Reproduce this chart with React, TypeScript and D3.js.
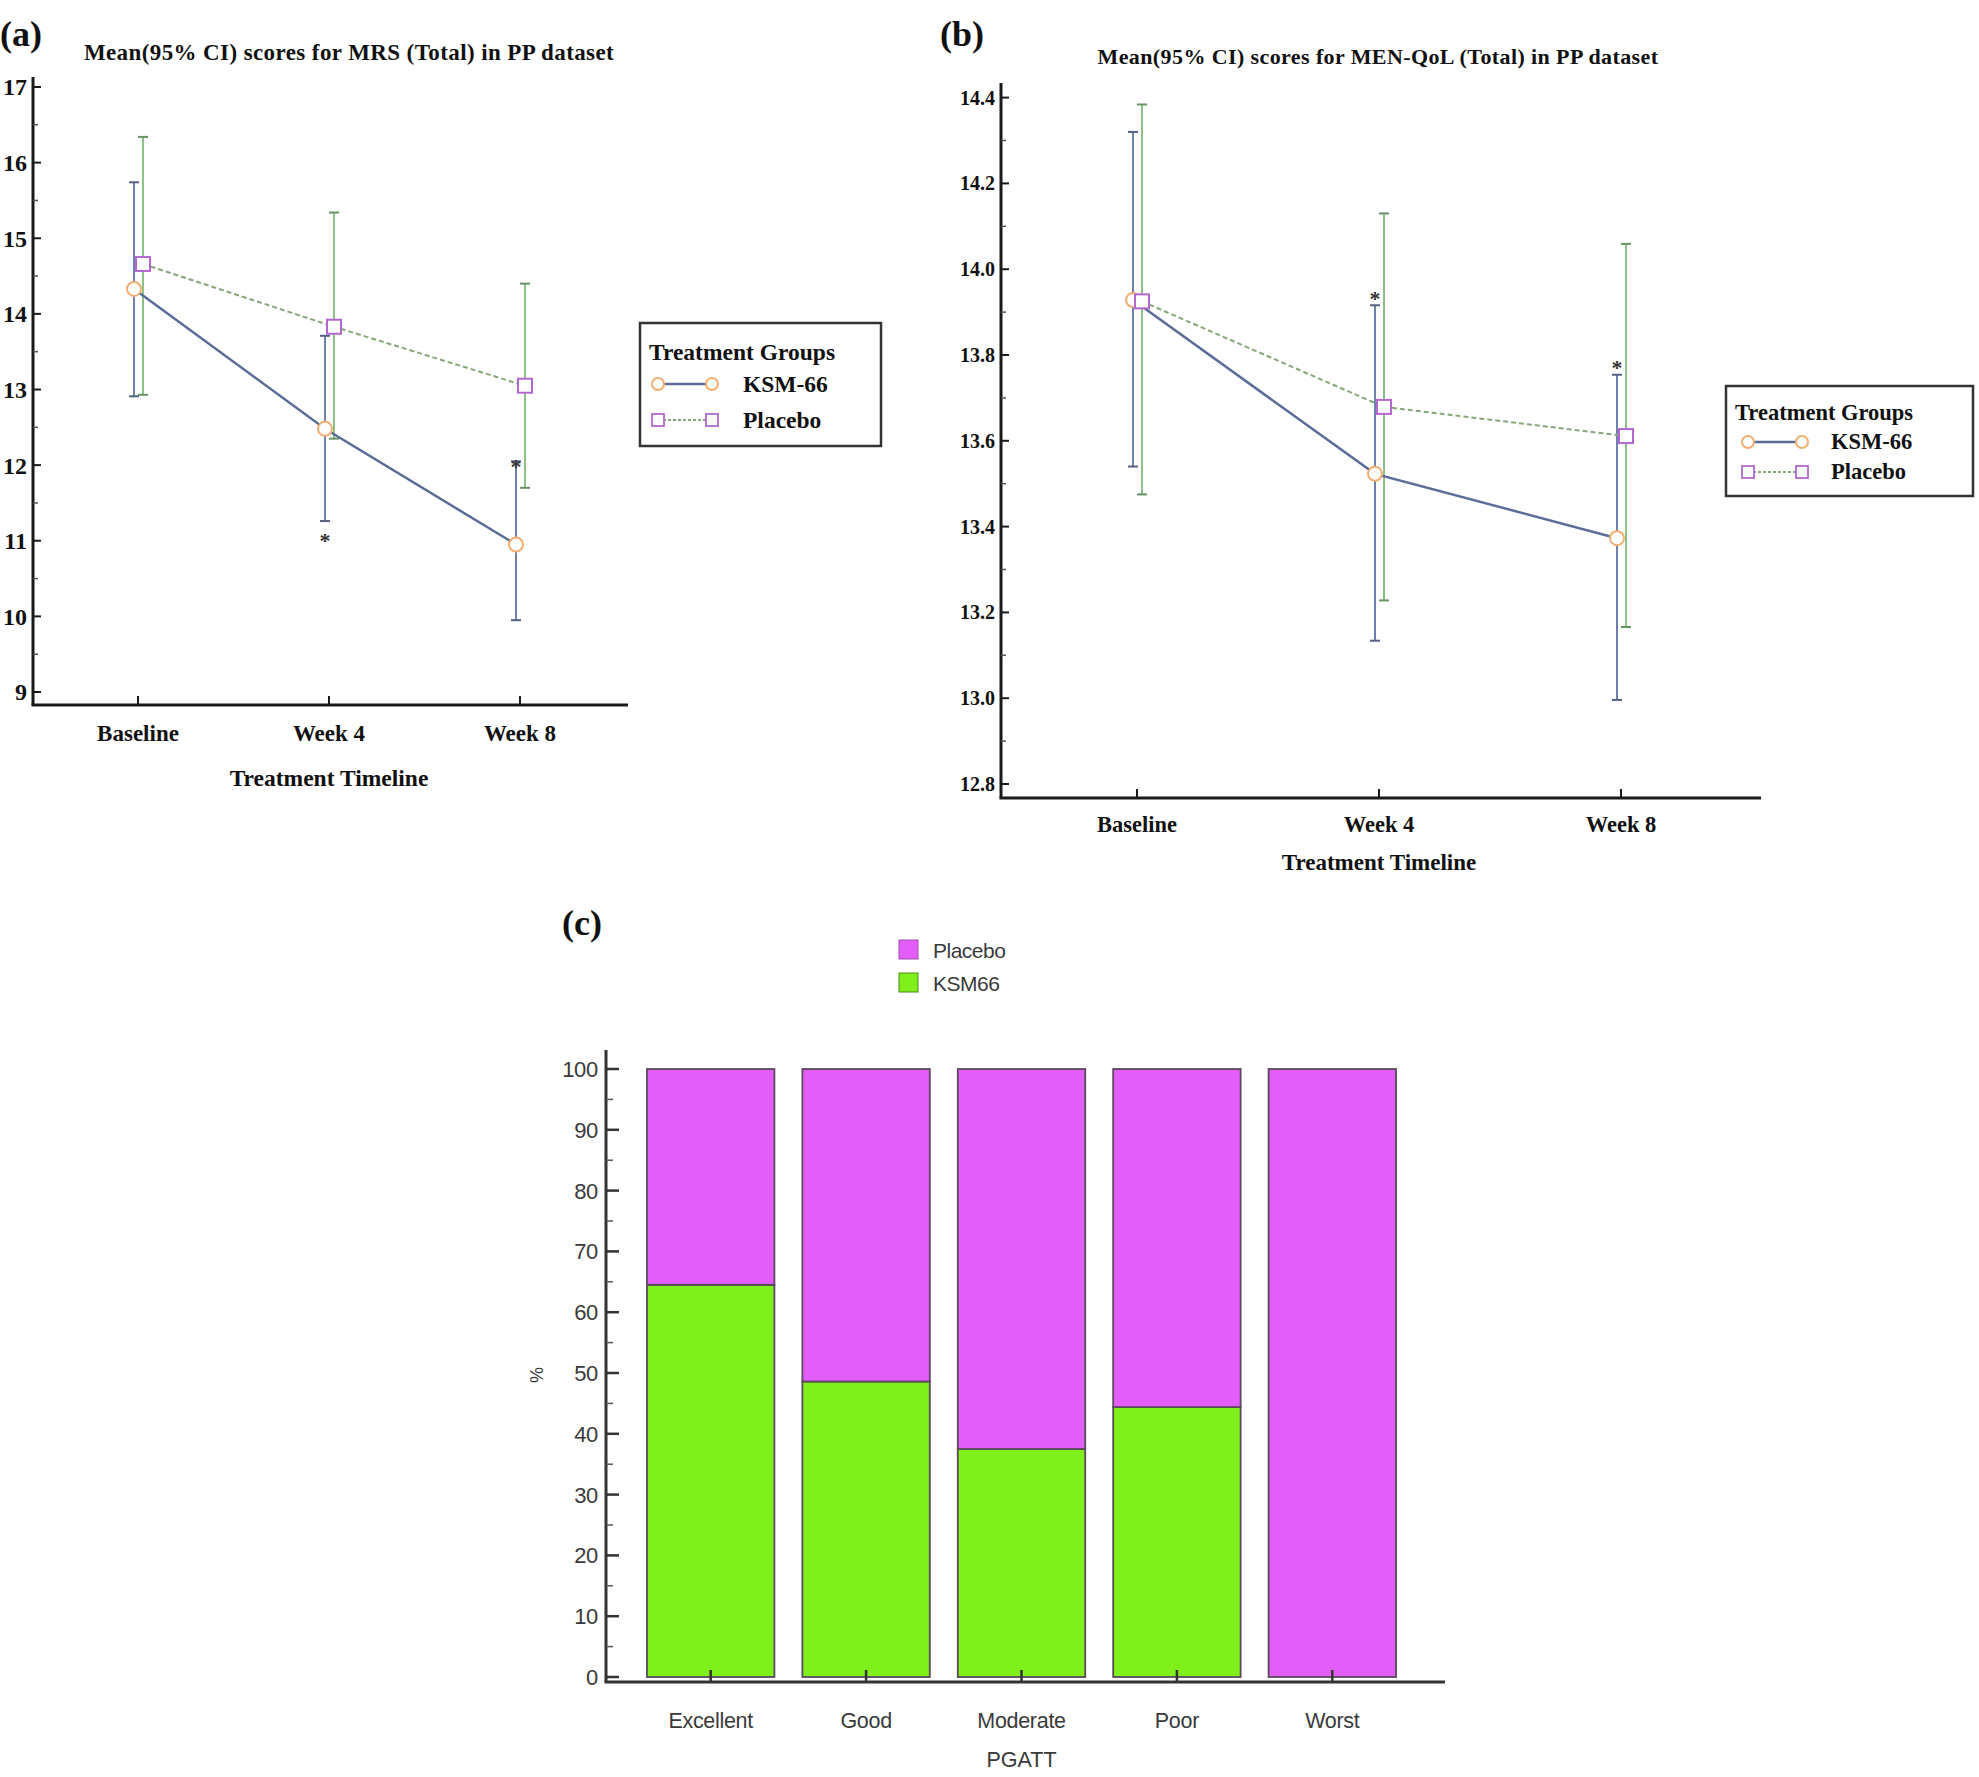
import React from 'react';
import * as d3 from 'd3';

// ─── Data ───────────────────────────────────────────────────

const timeline = ['Baseline', 'Week 4', 'Week 8'];

// (a) MRS total, mean and 95% CI
const mrsKsmMean = [14.33, 12.48, 10.95];
const mrsKsmLow = [12.91, 11.26, 9.95];
const mrsKsmHigh = [15.74, 13.71, 12.05];
const mrsPlaMean = [14.66, 13.83, 13.05];
const mrsPlaLow = [12.93, 12.35, 11.7];
const mrsPlaHigh = [16.34, 15.34, 14.4];
const mrsSig = [null, 11.05, 12.03];

// (b) MEN-QoL total, mean and 95% CI
const qolKsmMean = [13.928, 13.523, 13.373];
const qolKsmLow = [13.54, 13.134, 12.996];
const qolKsmHigh = [14.32, 13.916, 13.754];
const qolPlaMean = [13.925, 13.679, 13.611];
const qolPlaLow = [13.475, 13.228, 13.166];
const qolPlaHigh = [14.384, 14.13, 14.059];
const qolSig = [null, 13.94, 13.78];

// (c) PGATT distribution, %
const pgatt = ['Excellent', 'Good', 'Moderate', 'Poor', 'Worst'];
const ksm66Pct = [64.5, 48.6, 37.5, 44.4, 0];
const placeboPct = [35.5, 51.4, 62.5, 55.6, 100];

// ─── Styles ─────────────────────────────────────────────────

const SERIF = '"Liberation Serif", "Times New Roman", serif';
const SANS = '"Liberation Sans", Arial, sans-serif';
const KSM_LINE = '#5a6c98';
const KSM_BAR = '#6f80ad';
const KSM_MARK = '#f0ae72';
const PLA_LINE = '#86a878';
const PLA_BAR = '#8cc287';
const PLA_MARK = '#b468cf';
const AXIS = '#1a1a1a';
const PLACEBO_FILL = '#e35ef8';
const KSM_FILL = '#80f01c';

// ─── Line panel ─────────────────────────────────────────────

interface Series {
  mean: number[];
  low: number[];
  high: number[];
}

interface LinePanelProps {
  tag: string;
  tagX: number;
  title: string;
  titleX: number;
  titleY: number;
  titleSize: number;
  axisX: number;
  axisY: number;
  axisTop: number;
  axisRight: number;
  catRange: [number, number];
  yDomain: [number, number];
  yRange: [number, number];
  major: number;
  minor: number;
  fmt: (v: number) => string;
  tickSize: number;
  labelSize: number;
  xLabelY: number;
  xTitleY: number;
  ksm: Series;
  pla: Series;
  sig: (number | null)[];
  legend: { x: number; y: number; w: number; h: number; size: number; rows: number[]; titleY: number; mx: number; tx: number };
}

function LinePanel(p: LinePanelProps) {
  const x = d3.scalePoint<string>().domain(timeline).range(p.catRange);
  const y = d3.scaleLinear().domain(p.yDomain).range(p.yRange);
  const majors = d3.range(p.yDomain[0], p.yDomain[1] + p.major / 2, p.major);
  const minors = d3.range(p.yDomain[0] + p.minor, p.yDomain[1], p.major).filter((v) => v < p.yDomain[1]);
  const kOff = -4;
  const pOff = 5;

  const line = (off: number) =>
    d3.line<number>()
      .x((_, i) => (x(timeline[i]) as number) + off)
      .y((d) => y(d));

  const errBars = (s: Series, off: number, color: string) =>
    timeline.map((c, i) => {
      const cx = (x(c) as number) + off;
      const cap = d3.color(color)!.darker(0.8).toString();
      return (
        <g key={c} stroke={color} strokeWidth={2}>
          <line x1={cx} x2={cx} y1={y(s.low[i])} y2={y(s.high[i])} />
          <line x1={cx - 5} x2={cx + 5} y1={y(s.low[i])} y2={y(s.low[i])} stroke={cap} />
          <line x1={cx - 5} x2={cx + 5} y1={y(s.high[i])} y2={y(s.high[i])} stroke={cap} />
        </g>
      );
    });

  const lg = p.legend;

  return (
    <g fontFamily={SERIF} fontWeight="bold" fill="#111">
      <text x={p.tagX} y={46} fontSize={36}>{p.tag}</text>
      <text x={p.titleX} y={p.titleY} fontSize={p.titleSize} textAnchor="middle" letterSpacing={0.4}>{p.title}</text>

      {/* axes */}
      <line x1={p.axisX} x2={p.axisX} y1={p.axisTop} y2={p.axisY} stroke={AXIS} strokeWidth={3} />
      <line x1={p.axisX - 1.5} x2={p.axisRight} y1={p.axisY} y2={p.axisY} stroke={AXIS} strokeWidth={3} />
      {majors.map((v) => (
        <g key={'M' + v}>
          <line x1={p.axisX} x2={p.axisX + 8} y1={y(v)} y2={y(v)} stroke={AXIS} strokeWidth={2} />
          <text x={p.axisX - 6} y={y(v)} dy="0.35em" textAnchor="end" fontSize={p.tickSize}>{p.fmt(v)}</text>
        </g>
      ))}
      {minors.map((v) => (
        <line key={'m' + v} x1={p.axisX} x2={p.axisX + 5} y1={y(v)} y2={y(v)} stroke="#555" strokeWidth={1.5} />
      ))}
      {timeline.map((c) => (
        <g key={c}>
          <line x1={x(c)} x2={x(c)} y1={p.axisY} y2={p.axisY - 9} stroke={AXIS} strokeWidth={2} />
          <text x={x(c)} y={p.xLabelY} textAnchor="middle" fontSize={p.labelSize}>{c}</text>
        </g>
      ))}
      <text x={(p.catRange[0] + p.catRange[1]) / 2} y={p.xTitleY} textAnchor="middle" fontSize={p.labelSize + 0.5}>Treatment Timeline</text>

      {/* error bars */}
      {errBars(p.pla, pOff, PLA_BAR)}
      {errBars(p.ksm, kOff, KSM_BAR)}

      {/* lines */}
      <path d={line(pOff)(p.pla.mean) ?? ''} fill="none" stroke={PLA_LINE} strokeWidth={2} strokeDasharray="5 3" />
      <path d={line(kOff)(p.ksm.mean) ?? ''} fill="none" stroke={KSM_LINE} strokeWidth={2.5} />

      {/* markers */}
      {p.ksm.mean.map((v, i) => (
        <circle key={'k' + i} cx={(x(timeline[i]) as number) + kOff} cy={y(v)} r={7} fill="#fff" stroke={KSM_MARK} strokeWidth={2} />
      ))}
      {p.pla.mean.map((v, i) => (
        <rect key={'p' + i} x={(x(timeline[i]) as number) + pOff - 7} y={y(v) - 7} width={14} height={14} fill="#fff" stroke={PLA_MARK} strokeWidth={2} />
      ))}

      {/* significance */}
      {p.sig.map((v, i) =>
        v == null ? null : (
          <text key={'s' + i} x={(x(timeline[i]) as number) + kOff} y={y(v) + 11} textAnchor="middle" fontSize={22} fill="#333">*</text>
        ),
      )}

      {/* legend */}
      <rect x={lg.x} y={lg.y} width={lg.w} height={lg.h} fill="#fff" stroke="#333" strokeWidth={2.5} />
      <text x={lg.x + 9} y={lg.titleY} fontSize={lg.size}>Treatment Groups</text>
      <line x1={lg.mx} x2={lg.mx + 54} y1={lg.rows[0]} y2={lg.rows[0]} stroke={KSM_LINE} strokeWidth={2.5} />
      <circle cx={lg.mx} cy={lg.rows[0]} r={6} fill="#fff" stroke={KSM_MARK} strokeWidth={2} />
      <circle cx={lg.mx + 54} cy={lg.rows[0]} r={6} fill="#fff" stroke={KSM_MARK} strokeWidth={2} />
      <text x={lg.tx} y={lg.rows[0]} dy="0.33em" fontSize={lg.size}>KSM-66</text>
      <line x1={lg.mx} x2={lg.mx + 54} y1={lg.rows[1]} y2={lg.rows[1]} stroke={PLA_LINE} strokeWidth={2} strokeDasharray="3 2" />
      <rect x={lg.mx - 6} y={lg.rows[1] - 6} width={12} height={12} fill="#fff" stroke={PLA_MARK} strokeWidth={1.8} />
      <rect x={lg.mx + 48} y={lg.rows[1] - 6} width={12} height={12} fill="#fff" stroke={PLA_MARK} strokeWidth={1.8} />
      <text x={lg.tx} y={lg.rows[1]} dy="0.33em" fontSize={lg.size}>Placebo</text>
    </g>
  );
}

// ─── Stacked bar panel ──────────────────────────────────────

function BarPanel() {
  const axisX = 606;
  const axisY = 1682;
  const x = d3.scaleBand<string>().domain(pgatt).range([619, 1424]).padding(0.18);
  const y = d3.scaleLinear().domain([0, 100]).range([1677, 1069]);
  const stacked = pgatt.map((c, i) => ({ c, k: ksm66Pct[i], p: placeboPct[i] }));
  const txt = '#3a3a3a';
  const mid = (x(pgatt[2]) as number) + x.bandwidth() / 2;

  return (
    <g>
      <text x={562} y={935} fontFamily={SERIF} fontWeight="bold" fontSize={36} fill="#111">(c)</text>

      {/* legend */}
      <rect x={899} y={940} width={19} height={19} fill={PLACEBO_FILL} stroke="#a04ab0" strokeWidth={1} />
      <text x={933} y={950} dy="0.36em" fontFamily={SANS} fontSize={21} fill={txt} letterSpacing={-0.5}>Placebo</text>
      <rect x={899} y={973} width={19} height={19} fill={KSM_FILL} stroke="#4c8a18" strokeWidth={1} />
      <text x={933} y={983} dy="0.36em" fontFamily={SANS} fontSize={21} fill={txt} letterSpacing={-0.5}>KSM66</text>

      {/* bars */}
      {stacked.map((d) => (
        <g key={d.c} stroke="#5a4a5a" strokeWidth={1.8}>
          {d.k > 0 && (
            <rect x={x(d.c)} y={y(d.k)} width={x.bandwidth()} height={y(0) - y(d.k)} fill={KSM_FILL} />
          )}
          <rect x={x(d.c)} y={y(d.k + d.p)} width={x.bandwidth()} height={y(d.k) - y(d.k + d.p)} fill={PLACEBO_FILL} />
        </g>
      ))}

      {/* axes */}
      <line x1={axisX} x2={axisX} y1={1050} y2={axisY} stroke="#333" strokeWidth={3} />
      <line x1={axisX - 1.5} x2={1445} y1={axisY} y2={axisY} stroke="#333" strokeWidth={3} />
      {y.ticks(10).map((v) => (
        <g key={v}>
          <line x1={axisX} x2={axisX + 13} y1={y(v)} y2={y(v)} stroke="#333" strokeWidth={2.5} />
          <text x={axisX - 8} y={y(v)} dy="0.36em" textAnchor="end" fontFamily={SANS} fontSize={22} fill={txt} letterSpacing={-0.3}>{v}</text>
        </g>
      ))}
      {d3.range(5, 100, 10).map((v) => (
        <line key={'m' + v} x1={axisX} x2={axisX + 7} y1={y(v)} y2={y(v)} stroke="#555" strokeWidth={1.5} />
      ))}
      {pgatt.map((c) => {
        const cx = (x(c) as number) + x.bandwidth() / 2;
        return (
          <g key={c}>
            <line x1={cx} x2={cx} y1={axisY} y2={axisY - 12} stroke="#333" strokeWidth={2.5} />
            <text x={cx} y={1728} textAnchor="middle" fontFamily={SANS} fontSize={21.5} fill={txt} letterSpacing={-0.3}>{c}</text>
          </g>
        );
      })}
      <text x={mid} y={1767} textAnchor="middle" fontFamily={SANS} fontSize={21.5} fill={txt}>PGATT</text>
      <text transform="translate(543,1375) rotate(-90)" textAnchor="middle" fontFamily={SANS} fontSize={18} fill={txt}>%</text>
    </g>
  );
}

// ─── App ────────────────────────────────────────────────────

export default function App() {
  return (
    <div style={{ position: 'absolute', left: 0, top: 0, background: '#fff' }}>
      <svg width={1979} height={1777} style={{ display: 'block' }}>
        <rect width={1979} height={1777} fill="#fff" />
        <LinePanel
          tag="(a)"
          tagX={0}
          title="Mean(95% CI) scores for MRS (Total) in PP dataset"
          titleX={349}
          titleY={60}
          titleSize={23}
          axisX={33}
          axisY={705}
          axisTop={77}
          axisRight={628}
          catRange={[138, 520]}
          yDomain={[9, 17]}
          yRange={[692, 87]}
          major={1}
          minor={0.5}
          fmt={d3.format('d')}
          tickSize={24}
          labelSize={23}
          xLabelY={741}
          xTitleY={786}
          ksm={{ mean: mrsKsmMean, low: mrsKsmLow, high: mrsKsmHigh }}
          pla={{ mean: mrsPlaMean, low: mrsPlaLow, high: mrsPlaHigh }}
          sig={mrsSig}
          legend={{ x: 640, y: 323, w: 241, h: 123, size: 23.5, titleY: 360, rows: [384, 420], mx: 658, tx: 743 }}
        />
        <LinePanel
          tag="(b)"
          tagX={940}
          title="Mean(95% CI) scores for MEN-QoL (Total) in PP dataset"
          titleX={1378}
          titleY={64}
          titleSize={22}
          axisX={1001}
          axisY={798}
          axisTop={83}
          axisRight={1761}
          catRange={[1137, 1621]}
          yDomain={[12.8, 14.4]}
          yRange={[784, 97.6]}
          major={0.2}
          minor={0.1}
          fmt={d3.format('.1f')}
          tickSize={20}
          labelSize={22.5}
          xLabelY={832}
          xTitleY={870}
          ksm={{ mean: qolKsmMean, low: qolKsmLow, high: qolKsmHigh }}
          pla={{ mean: qolPlaMean, low: qolPlaLow, high: qolPlaHigh }}
          sig={qolSig}
          legend={{ x: 1726, y: 386, w: 247, h: 110, size: 22.5, titleY: 420, rows: [442, 472], mx: 1748, tx: 1831 }}
        />
        <BarPanel />
      </svg>
    </div>
  );
}
